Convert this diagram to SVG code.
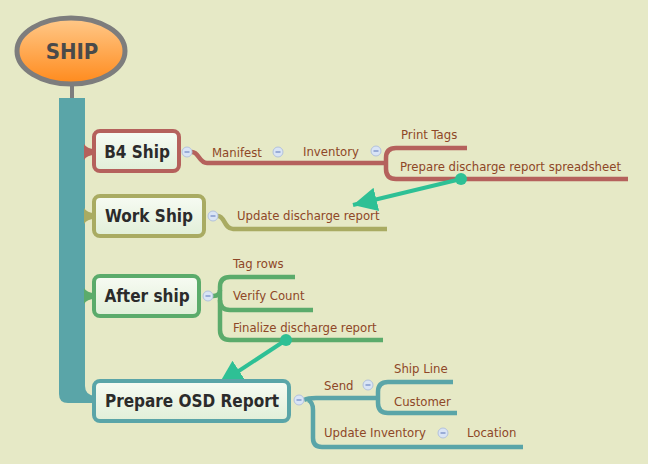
<svg xmlns="http://www.w3.org/2000/svg" width="648" height="464" viewBox="0 0 648 464">
<defs>
<linearGradient id="gOrange" x1="0" y1="0" x2="0" y2="1">
<stop offset="0" stop-color="#ffc98a"/>
<stop offset="1" stop-color="#ff8a1c"/>
</linearGradient>
<linearGradient id="gBox" x1="0" y1="0" x2="0" y2="1">
<stop offset="0" stop-color="#f7fbf3"/>
<stop offset="1" stop-color="#e1efd8"/>
</linearGradient>
<marker id="ah" markerUnits="userSpaceOnUse" markerWidth="26" markerHeight="26" viewBox="0 0 26 26" refX="24" refY="13" orient="auto">
<path d="M0,1 L24,13 L0,25 Z" fill="#2ec095"/>
</marker>
<g id="col">
<circle r="5" fill="#d9e4f5" stroke="#b3c2dc" stroke-width="1"/>
<line x1="-2.5" y1="0" x2="2.5" y2="0" stroke="#6f88c4" stroke-width="1.2"/>
</g>
</defs>
<style>
.node{font-family:"DejaVu Sans Condensed","DejaVu Sans",sans-serif;font-stretch:condensed;font-weight:bold;font-size:17px;fill:#2b2b2b;text-anchor:middle}
.lbl{font-family:"DejaVu Sans Condensed","DejaVu Sans",sans-serif;font-stretch:condensed;font-size:13px;fill:#8e4727}
.box{fill:url(#gBox);stroke-width:4}
.br{fill:none;stroke-width:4.5;stroke-linecap:butt}
.red{stroke:#b5615c}
.olive{stroke:#a9ab62}
.green{stroke:#5bab6b}
.teal{stroke:#5aa5a8}
.rel{fill:none;stroke:#2ec095;stroke-width:4}
</style>
<rect x="0" y="0" width="648" height="464" fill="#e6e9c6"/>

<g id="connectors">
<line x1="72" y1="84" x2="72" y2="99" stroke="#7d7d7d" stroke-width="4"/>
<path d="M59,98 H85 V386 Q85,395 95,396 V403 H68 Q59,403 59,394 Z" fill="#5aa5a8"/>
<path d="M84,144 Q87,149 95,149 V155 Q87,155 84,160 Z" fill="#b5615c"/>
<path d="M84,208 Q87,213 95,213 V219 Q87,219 84,224 Z" fill="#a9ab62"/>
<path d="M84,288 Q87,293 95,293 V299 Q87,299 84,304 Z" fill="#5bab6b"/>

<path class="br red" d="M192,152 C199,152 199,163 207,163 H386"/>
<path class="br red" d="M467,148 H396 Q386,148 386,158 V169 Q386,179 396,179 H628"/>
<path class="br olive" d="M218,216 C225,216 224,229 233,229 H387"/>
<path class="br green" d="M295,277 H230 Q220,277 220,287 V330 Q220,340 230,340 H383"/>
<path class="br green" d="M213,296 Q220,296 220,290"/>
<path class="br green" d="M220,300 Q220,310 230,310 H313"/>
<path class="br teal" d="M304,400 Q308,398 316,398 H378"/>
<path class="br teal" d="M453,382 H388 Q378,382 378,392 V403 Q378,413 388,413 H457"/>
<path class="br teal" d="M308,400 Q313,402 313,410 V438 Q313,447 322,447 H523"/>

<line class="rel" x1="461" y1="179" x2="353" y2="205" marker-end="url(#ah)"/>
<circle cx="461" cy="179" r="6" fill="#2ec095"/>
<line class="rel" x1="286" y1="340" x2="219" y2="384" marker-end="url(#ah)"/>
<circle cx="286" cy="340" r="6" fill="#2ec095"/>
</g>

<g id="ship">
<ellipse cx="71" cy="51" rx="54" ry="33" fill="url(#gOrange)" stroke="#7d7d7d" stroke-width="5"/>
<text class="node" x="72" y="59" style="font-size:22px;fill:#4a4a4a">SHIP</text>
</g>

<g id="b4ship">
<rect class="box red" x="94" y="131" width="85" height="40" rx="6"/>
<text class="node" x="137" y="158">B4 Ship</text>
<use href="#col" x="187" y="152"/>
</g>
<g id="manifest">
<text class="lbl" x="212" y="157">Manifest</text>
<use href="#col" x="278" y="152"/>
</g>
<g id="inventory">
<text class="lbl" x="303" y="156">Inventory</text>
<use href="#col" x="376" y="151"/>
</g>
<g id="printtags"><text class="lbl" x="401" y="139">Print Tags</text></g>
<g id="prepsheet"><text class="lbl" x="400" y="171">Prepare discharge report spreadsheet</text></g>

<g id="workship">
<rect class="box olive" x="94" y="196" width="110" height="40" rx="6"/>
<text class="node" x="149" y="222">Work Ship</text>
<use href="#col" x="213" y="216"/>
</g>
<g id="updatedischarge"><text class="lbl" x="237" y="220">Update discharge report</text></g>

<g id="aftership">
<rect class="box green" x="94" y="276" width="105" height="40" rx="6"/>
<text class="node" x="147" y="302">After ship</text>
<use href="#col" x="208" y="296"/>
</g>
<g id="tagrows"><text class="lbl" x="233" y="268">Tag rows</text></g>
<g id="verifycount"><text class="lbl" x="233" y="300">Verify Count</text></g>
<g id="finalize"><text class="lbl" x="233" y="332">Finalize discharge report</text></g>

<g id="osd">
<rect class="box teal" x="94" y="381" width="195" height="40" rx="6"/>
<text class="node" x="192" y="407">Prepare OSD Report</text>
<use href="#col" x="299" y="400"/>
</g>
<g id="send">
<text class="lbl" x="324" y="390">Send</text>
<use href="#col" x="368" y="385"/>
</g>
<g id="shipline"><text class="lbl" x="394" y="373">Ship Line</text></g>
<g id="customer"><text class="lbl" x="394" y="406">Customer</text></g>
<g id="updateinv">
<text class="lbl" x="324" y="437">Update Inventory</text>
<use href="#col" x="443" y="433"/>
</g>
<g id="location"><text class="lbl" x="467" y="437">Location</text></g>
</svg>
